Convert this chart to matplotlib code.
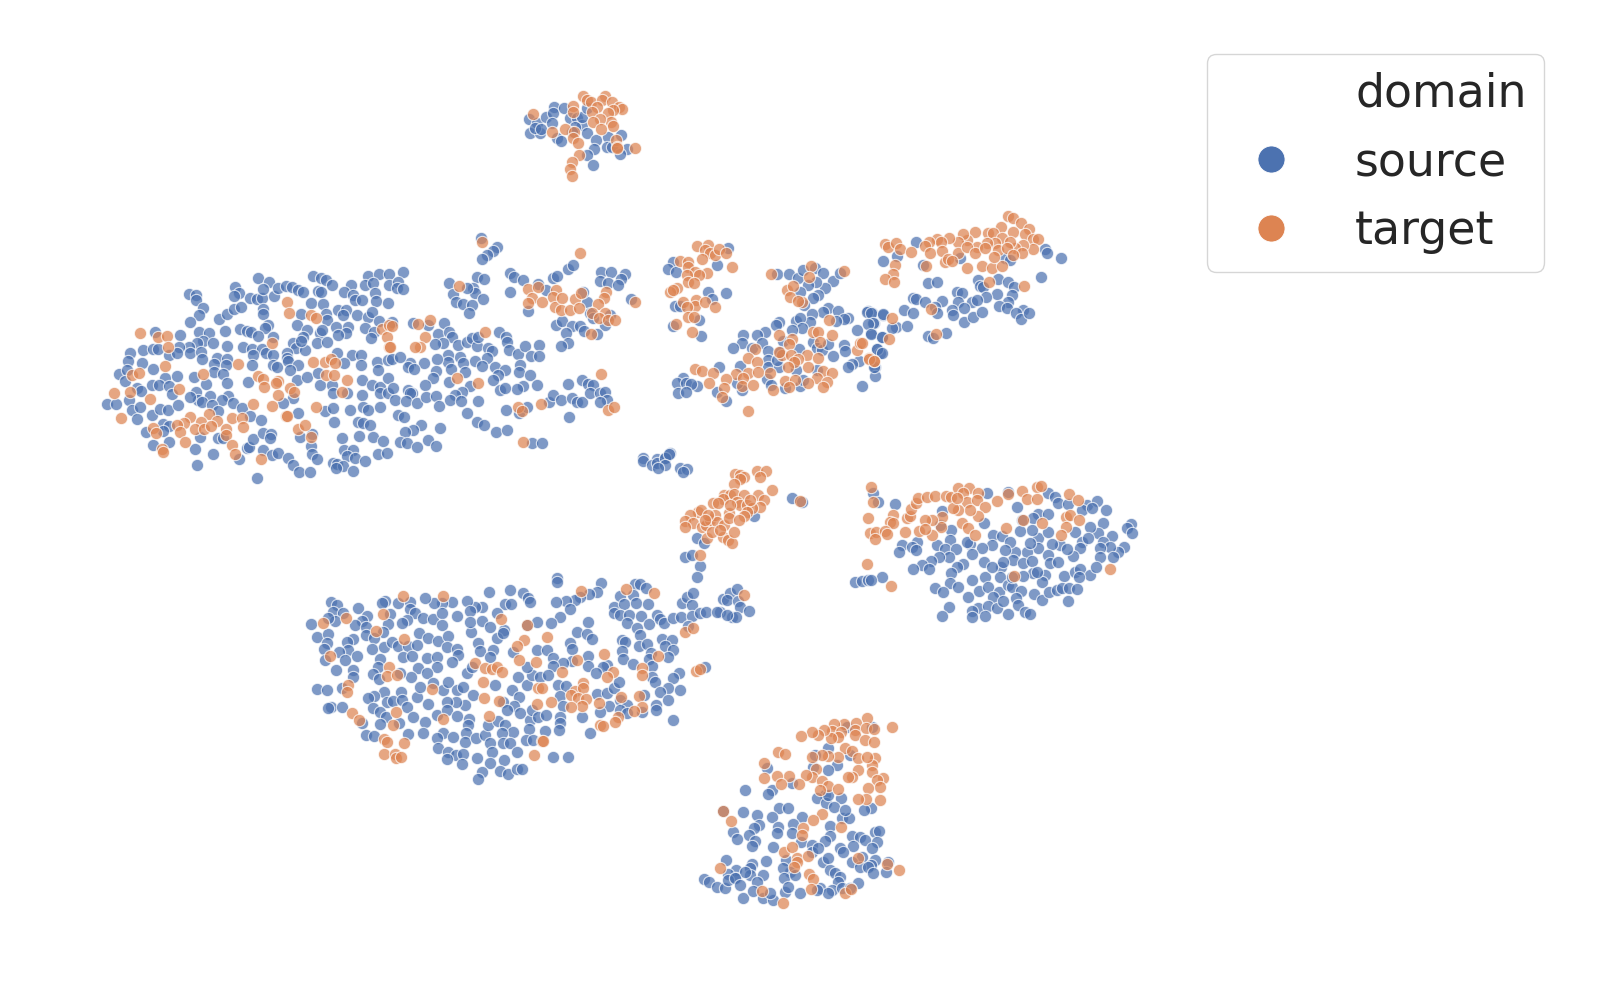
import matplotlib
matplotlib.use("Agg")
import matplotlib.pyplot as plt
from matplotlib.lines import Line2D

SCALE = 3.0
COL_SOURCE = "#4C72B0"
COL_TARGET = "#DD8452"

a_origin = (90, 230)
a_source = [(503,143),(537,156),(670,138),(693,143),(708,150),(727,165),(835,137),(867,133),(897,133),(783,165),(825,166),(850,160),(898,165),(297,191),(317,195),(317,210),(436,171),(447,188),(432,198),(480,205),(500,206),(515,205),(520,178),(551,197),(565,175),(587,168),(605,170),(625,180),(640,186),(683,182),(693,185),(763,186),(790,195),(795,210),(817,209),(855,188),(858,212),(893,218),(340,234),(328,255),(301,277),(388,268),(412,253),(432,236),(453,231),(519,238),(520,252),(662,220),(700,222),(633,251),(708,252),(712,270),(745,240),(768,240),(760,255),(800,256),(835,260),(846,245),(866,272),(535,284),(525,295),(620,284),(650,300),(640,320),(690,310),(697,300),(737,292),(775,290),(768,310),(745,315),(825,295),(853,305),(843,325),(450,297),(470,302),(483,305),(503,318),(550,320),(328,305),(358,310),(340,332),(370,338),(320,338),(270,314),(195,305),(405,304),(412,348),(458,350),(485,358),(515,358),(527,370),(488,375),(550,375),(608,340),(618,355),(645,360),(590,370),(590,385),(682,338),(710,337),(634,332),(298,352),(268,352),(300,370),(333,365),(335,387),(237,375),(261,368),(120,369),(160,360),(188,356),(205,358),(115,392),(157,398),(189,418),(382,384),(410,388),(372,402),(408,405),(485,405),(550,405),(562,412),(595,392),(625,405),(600,420),(742,370),(785,375),(813,375),(763,398),(812,405),(860,397),(865,420),(895,390),(88,433),(110,420),(225,443),(261,437),(311,440),(348,462),(372,425),(400,432),(410,460),(475,455),(620,450),(652,442),(683,430),(690,465),(725,465),(815,450),(845,465),(870,470),(895,445),(105,452),(140,475),(153,482),(185,465),(206,465),(237,467),(245,492),(318,487),(360,497),(325,510),(300,500),(415,497),(395,510),(428,520),(608,505),(730,490),(772,490),(815,495),(870,490),(895,490),(50,521),(78,522),(118,510),(126,541),(150,530),(187,555),(210,538),(235,540),(265,525),(335,517),(365,525),(385,542),(455,535),(480,558),(513,570),(578,520),(624,548),(705,543),(730,533),(780,540),(818,530),(835,540),(870,530),(140,568),(218,582),(238,588),(168,606),(218,604),(237,635),(190,645),(316,658),(330,620),(383,625),(400,625),(368,673),(448,688),(470,655),(478,650),(490,628),(520,610),(543,612),(540,625),(520,660),(545,675),(565,670),(595,685),(610,705),(628,727),(660,725),(630,620),(665,612),(662,648),(665,672),(680,688),(733,576),(805,575),(818,580),(840,585),(757,625),(808,618),(850,620),(878,633),(762,660),(790,660),(770,678),(795,685),(825,692),(728,698),(742,703),(760,708),(788,722),(738,715),(865,672),(890,670),(320,705),(500,743)]
a_target = [(592,216),(598,250),(663,256),(678,265),(151,310),(205,322),(230,318),(234,351),(545,339),(224,407),(445,403),(670,397),(705,395),(723,388),(735,400),(338,433),(125,435),(148,430),(503,437),(520,447),(565,452),(557,460),(707,435),(732,434),(770,450),(73,489),(120,485),(181,507),(266,476),(523,470),(563,495),(600,473),(612,485),(755,487),(488,521),(546,528),(677,532),(93,565),(300,560),(283,578),(262,585),(356,553),(333,575),(380,572),(427,564),(455,564),(460,590),(588,557),(590,557),(188,595),(197,610),(270,605),(315,598),(342,597),(362,588),(408,598),(407,615),(625,598),(645,585),(662,620),(285,637),(427,645),(215,657),(220,665),(434,671),(513,687),(875,298),(890,320),(898,285),(898,350)]

b_origin = (380, 80)
b_source = [(448,118),(470,128),(450,160),(480,160),(465,145),(483,148),(498,110),(523,82),(520,100),(552,85),(515,130),(530,175),(543,183),(570,115),(590,115),(605,135),(585,140),(620,160),(605,110),(575,155),(647,180),(643,208),(683,170),(723,165),(680,200),(695,200),(740,207),(720,222),(620,225),(640,255),(620,85),(304,475),(350,500),(338,513),(322,525),(305,538),(207,609),(290,590),(313,598),(280,625),(285,640),(262,625),(218,642),(227,665),(250,672),(308,656),(275,675),(268,700),(390,578),(402,590),(428,601),(390,637),(475,612),(498,630),(520,595),(532,588),(565,567),(578,555),(663,577),(692,575),(735,581),(660,603),(685,608),(723,598),(715,615),(445,693),(752,658),(620,667),(610,635),(527,735),(545,723),(575,738),(600,737),(612,752),(630,700),(640,715),(675,735),(690,705),(650,763),(557,760),(565,790),(543,797),(68,576),(55,605),(50,623),(70,626),(35,725),(98,729),(145,735),(193,729),(175,762),(208,755),(215,770),(190,790),(165,793),(233,796),(260,787),(275,775),(292,798),(295,772),(358,755),(378,770),(380,787),(388,810),(413,823),(436,797),(477,794),(453,827),(478,827),(325,803),(335,812),(320,835),(285,842),(240,830),(205,825),(203,845),(213,868),(170,838),(133,848),(168,872),(160,893),(90,848),(83,860),(103,868),(35,838),(60,830),(250,850),(255,875),(305,857),(345,860),(375,870),(355,885),(340,900),(360,930),(420,855),(418,875),(450,885),(470,914),(430,917),(410,927),(375,925),(270,918),(245,935),(225,945),(207,905),(135,915),(85,930),(95,940),(40,925),(90,938),(45,960),(78,962),(110,970),(138,950),(168,947),(178,977),(210,960),(242,962),(293,962),(260,1000),(290,1025),(312,1035),(378,990),(347,1057),(380,1050),(418,1000),(440,980),(507,967),(520,945),(543,959),(575,953),(590,965),(605,965),(565,912),(605,900),(625,912),(640,915),(630,938),(660,938),(675,935),(680,960),(660,965),(566,1010),(55,1005),(72,1012),(122,1035),(180,1045),(100,1050),(75,1055),(60,1085),(80,1088),(112,1102),(145,1080),(168,1097),(457,1090),(487,1090),(790,1135),(830,1138),(870,1120),(855,1133)]
b_target = [(610,48),(620,60),(632,65),(675,47),(665,60),(650,80),(635,95),(695,65),(718,82),(725,88),(700,90),(685,98),(692,125),(660,118),(640,125),(700,137),(662,148),(460,103),(517,157),(555,147),(578,78),(578,95),(582,155),(578,175),(595,190),(707,180),(712,200),(765,203),(597,225),(575,247),(570,267),(575,287),(712,205),(305,487),(238,618),(600,518),(445,627),(475,620),(528,630),(455,655),(443,670),(485,667),(520,652),(525,680),(545,655),(543,690),(570,690),(585,658),(603,638),(597,685),(677,635),(672,655),(655,672),(637,700),(675,698),(657,713),(683,720),(705,720),(632,763),(766,665),(37,738),(115,733),(150,720),(135,772),(120,800),(105,800),(315,757),(230,893),(295,910),(663,882),(413,980),(427,992),(483,972),(683,990),(703,981),(428,1085),(30,800)]

c_origin = (660, 220)
c_source = [(203,83),(172,135),(38,125),(23,146),(47,157),(143,217),(197,218),(45,258),(60,258),(157,236),(118,301),(38,318),(122,348),(350,163),(388,162),(415,173),(428,150),(465,145),(490,160),(520,183),(540,160),(495,205),(468,185),(445,195),(420,215),(475,225),(460,235),(433,255),(503,265),(533,274),(490,275),(565,295),(552,297),(528,303),(457,283),(450,305),(408,302),(420,295),(425,323),(395,330),(358,305),(347,315),(315,337),(290,345),(248,345),(245,368),(220,384),(275,385),(305,370),(325,392),(323,420),(370,362),(418,387),(460,367),(470,385),(485,390),(505,372),(518,407),(553,375),(555,393),(590,330),(623,273),(635,280),(643,310),(632,340),(666,350),(670,285),(650,388),(660,400),(597,422),(575,432),(565,440),(645,440),(645,467),(607,498),(178,440),(240,438),(68,475),(52,488),(78,490),(110,497),(92,492),(55,518),(77,517),(170,515),(197,543),(245,510),(230,490),(323,440),(320,478),(333,495),(358,442),(375,505),(420,497),(408,450),(350,420),(360,395),(430,480),(470,450)]
c_target = [(110,78),(145,75),(135,90),(150,98),(165,105),(178,88),(197,100),(125,118),(215,140),(60,123),(85,125),(85,140),(105,155),(142,160),(118,165),(80,165),(85,185),(103,190),(50,205),(30,215),(40,210),(68,245),(108,240),(105,258),(135,247),(165,260),(80,262),(83,290),(103,290),(47,313),(97,335),(333,162),(452,138),(447,172),(552,153),(382,210),(398,197),(390,230),(425,245),(415,243),(507,300),(458,337),(475,335),(358,345),(397,358),(387,373),(480,365),(515,345),(285,388),(265,415),(290,425),(367,405),(358,395),(392,405),(440,405),(415,417),(402,425),(473,415),(385,440),(445,440),(265,460),(293,457),(330,460),(490,452),(515,458),(375,482),(405,480),(470,475),(500,487),(445,488),(490,500),(388,500),(105,447),(125,453),(160,460),(228,462),(250,475),(148,488),(198,478),(193,505),(245,497),(279,496),(340,510),(185,530),(628,415),(590,390),(600,370),(643,423),(265,573)]

d_origin = (860, 200)
d_source = [(167,127),(110,167),(68,182),(190,195),(555,147),(560,160),(603,174),(542,230),(205,250),(230,245),(355,240),(360,258),(370,262),(415,237),(443,245),(461,262),(410,282),(378,290),(455,285),(445,305),(292,277),(305,280),(160,295),(168,297),(195,305),(247,302),(225,320),(133,330),(160,338),(232,340),(295,305),(335,305),(350,300),(275,330),(312,325),(280,345),(312,367),(340,350),(365,335),(416,318),(440,325),(490,330),(468,340),(482,358),(507,340),(22,335),(33,340),(70,343),(40,370),(25,372),(33,402),(67,410),(108,380),(140,377),(95,385),(205,408),(258,400),(220,415),(52,447),(65,460),(42,500),(300,175),(435,175),(450,180)]
d_target = [(445,47),(460,55),(482,70),(508,88),(422,82),(458,95),(495,103),(520,118),(535,118),(520,146),(490,135),(465,145),(345,97),(385,98),(400,100),(425,115),(450,125),(405,130),(380,130),(350,140),(320,120),(310,102),(293,125),(268,113),(230,118),(243,127),(208,125),(195,137),(210,160),(245,153),(295,160),(320,140),(345,158),(375,145),(415,150),(440,145),(485,160),(75,133),(85,140),(108,128),(120,147),(153,155),(105,195),(100,222),(75,237),(102,247),(198,198),(255,185),(265,178),(277,184),(322,205),(365,197),(395,205),(425,198),(403,172),(458,165),(387,247),(491,259),(213,328),(95,353),(88,417),(228,402),(28,476),(42,482),(5,430)]

e_origin = (630, 440)
e_source = [(40,63),(65,75),(80,68),(105,55),(117,42),(105,75),(85,85),(150,83),(172,88),(158,97),(485,175),(515,187),(372,228),(202,295),(222,310),(165,350),(187,346),(210,378),(202,410)]
e_target = [(382,92),(408,93),(390,110),(315,103),(330,105),(342,110),(330,118),(312,133),(425,150),(385,165),(403,180),(390,200),(282,165),(300,165),(278,178),(313,162),(343,165),(320,185),(330,195),(350,195),(365,205),(350,215),(343,228),(360,180),(250,190),(265,190),(205,215),(213,210),(180,225),(165,242),(190,250),(165,260),(215,262),(228,255),(240,240),(255,225),(260,245),(282,255),(298,218),(298,235),(327,240),(230,293),(247,277),(278,292),(295,300),(305,308),(313,277),(509,184),(210,346),(270,270),(235,225),(300,195),(225,240)]

f_origin = (845, 470)
f_source = [(85,70),(100,95),(150,102),(425,68),(490,65),(515,110),(608,68),(630,82),(640,100),(668,103),(725,105),(755,92),(783,120),(712,120),(740,115),(857,163),(845,175),(860,188),(775,160),(760,190),(290,122),(418,160),(530,150),(578,132),(610,133),(565,145),(690,185),(735,170),(800,197),(775,215),(838,232),(820,245),(795,230),(765,235),(805,260),(765,260),(710,215),(705,235),(645,225),(685,258),(730,205),(665,237),(580,205),(560,180),(525,182),(610,185),(620,222),(580,235),(545,245),(510,245),(445,195),(470,198),(495,215),(480,240),(442,225),(410,235),(375,222),(365,215),(318,180),(315,210),(285,165),(275,225),(215,215),(170,225),(200,230),(163,245),(212,240),(300,238),(333,238),(380,252),(313,262),(282,262),(258,272),(230,285),(205,298),(253,298),(355,282),(335,290),(418,277),(318,310),(380,330),(420,320),(467,290),(505,270),(535,280),(560,272),(610,255),(615,280),(640,275),(600,315),(565,310),(590,335),(535,318),(465,320),(658,318),(690,305),(705,298),(735,315),(752,292),(702,322),(315,340),(340,350),(270,353),(295,365),(370,380),(403,362),(430,350),(463,365),(445,382),(490,345),(500,350),(528,363),(512,383),(568,372),(590,390),(612,367),(637,360),(650,355),(672,355),(695,357),(668,393),(313,412),(290,437),(400,413),(428,407),(380,423),(382,440),(420,437),(457,415),(475,393),(520,405),(540,425),(555,433),(488,431),(30,337),(50,333),(70,330),(110,322),(78,330),(575,305),(475,275),(440,290),(500,320),(555,220)]
f_target = [(77,52),(85,95),(68,145),(145,135),(135,155),(145,160),(75,190),(92,187),(90,208),(120,182),(125,193),(180,187),(187,145),(195,137),(197,118),(212,98),(220,85),(245,80),(270,77),(303,77),(318,80),(340,55),(373,55),(355,68),(400,68),(365,95),(395,90),(420,110),(398,138),(375,120),(340,120),(325,115),(335,85),(290,140),(287,170),(262,195),(262,150),(240,150),(222,183),(240,177),(350,160),(368,175),(390,195),(455,92),(488,72),(532,63),(545,88),(575,50),(587,47),(577,88),(482,173),(533,150),(590,160),(663,140),(675,135),(703,150),(663,172),(648,194),(672,72),(698,90),(508,318),(795,298),(65,282),(138,348)]

g_origin = (300, 570)
g_source = [(567,65),(631,60),(670,70),(685,83),(690,95),(615,102),(632,103),(545,110),(525,110),(500,92),(510,122),(470,137),(455,97),(425,98),(402,100),(375,84),(255,92),(245,100),(295,100),(330,95),(330,117),(345,128),(93,97),(110,105),(173,113),(100,125),(130,128),(200,137),(185,152),(165,165),(105,152),(85,145),(33,163),(50,200),(85,193),(82,220),(72,237),(198,172),(198,195),(160,208),(140,215),(145,240),(118,245),(170,258),(75,270),(135,270),(107,300),(160,300),(158,322),(270,132),(263,162),(250,185),(222,205),(215,237),(251,232),(275,215),(295,228),(322,150),(305,160),(358,190),(385,205),(325,228),(352,226),(308,262),(337,258),(380,265),(410,260),(415,212),(368,145),(400,147),(425,130),(425,165),(445,197),(440,232),(470,237),(475,255),(455,275),(410,290),(355,295),(382,310),(332,322),(300,308),(240,268),(235,290),(220,312),(237,328),(302,365),(252,365),(222,377),(205,383),(262,395),(280,392),(305,390),(320,412),(350,380),(360,350),(400,340),(428,360),(445,335),(470,360),(488,352),(500,310),(512,185),(510,155),(545,152),(570,172),(612,180),(592,203),(535,220),(540,242),(578,240),(570,260),(515,290),(585,345),(635,360),(658,380),(642,407),(610,395),(620,420),(660,430),(690,450),(695,420),(495,405),(520,375),(467,395),(440,395),(385,403),(340,440),(220,415),(240,425),(258,442),(240,462),(297,458),(375,455),(410,435),(440,420),(470,438),(508,447),(505,465),(497,490),(495,515),(430,490),(460,500),(370,490),(410,505),(415,533),(443,545),(468,555),(440,567),(490,552),(487,582),(530,565),(528,505),(555,495),(565,465),(593,452),(615,465),(640,485),(605,490),(570,520),(610,520),(630,520),(575,545),(650,545),(612,570),(570,578),(600,603),(625,613),(650,597),(665,598),(545,605),(535,627),(688,478),(678,510),(700,510),(715,442),(50,357),(80,360),(125,355),(93,410),(85,415),(127,412),(185,458),(197,495),(222,497),(325,492),(655,322),(680,345),(695,315),(720,320),(712,240),(680,290),(640,245),(680,165),(710,155),(610,190),(590,130)]
g_target = [(310,77),(430,77),(70,160),(137,145),(250,133),(229,183),(312,206),(604,146),(680,164),(672,210),(652,229),(657,270),(707,277),(90,257),(268,292),(261,318),(290,316),(525,278),(555,295),(575,298),(592,292),(607,307),(550,335),(143,344),(140,367),(395,357),(552,385),(597,392),(715,355),(712,403),(157,429),(178,451),(288,425),(430,447),(568,437),(280,466),(253,507),(260,517),(313,519),(253,551),(285,553),(288,565),(303,562),(702,555),(725,512)]

k_origin = (520, 560)
k_source = [(110,55),(112,65),(243,70),(230,95),(208,103),(180,110),(165,120),(138,122),(107,127),(150,148),(120,170),(92,188),(203,187),(170,215),(200,222),(217,238),(150,250),(155,267),(203,288),(203,318),(80,270),(100,295),(155,303),(130,310),(100,318),(85,345),(262,315),(248,322),(228,338),(115,375),(138,378),(120,408),(130,438),(230,402),(260,400),(282,385),(298,365),(268,437),(240,455),(300,420),(185,472),(77,465),(120,470),(120,490),(118,510),(75,513),(210,518),(345,72),(360,72),(377,85),(300,108),(340,105),(283,140),(312,132),(347,128),(385,133),(283,158),(300,165),(327,165),(362,168),(320,190),(388,193),(352,205),(360,225),(358,258),(380,253),(305,240),(315,245),(305,272),(310,298),(338,312),(393,278),(387,298),(395,317),(397,350),(405,365),(410,165),(420,178),(432,190),(425,238),(455,240),(435,258),(460,270),(445,290),(460,173),(485,130),(500,110),(518,100),(515,135),(483,170),(515,168),(540,160),(557,157),(505,198),(600,155),(590,155),(610,118),(630,100),(652,87),(622,120),(655,122),(660,142),(688,152),(635,172),(648,172),(622,165),(555,320),(478,338),(460,355),(445,385),(420,395),(480,390),(445,420),(407,435),(407,450),(372,405),(320,435),(300,450),(320,460),(367,455),(458,480),(145,592),(100,590)]
k_target = [(183,93),(317,87),(401,100),(494,216),(520,205),(413,288),(253,281),(170,300),(127,335),(280,337),(260,350),(367,325),(367,345),(528,332),(540,328),(188,368),(165,392),(190,383),(153,405),(175,413),(197,418),(187,437),(67,385),(92,425),(152,442),(238,428),(303,410),(358,408),(367,440),(341,454),(293,470),(284,487),(241,495),(250,497),(69,544),(80,230),(673,105)]

h_origin = (695, 705)
h_source = [(400,128),(465,150),(530,65),(455,65),(360,150),(425,180),(398,195),(355,187),(215,190),(290,235),(150,255),(232,255),(220,268),(390,270),(365,280),(437,280),(392,295),(417,305),(400,270),(528,310),(508,316),(145,320),(85,318),(253,310),(278,308),(185,330),(232,337),(320,335),(293,358),(440,340),(462,340),(450,315),(193,360),(178,368),(163,390),(248,365),(247,385),(180,408),(172,423),(113,380),(125,402),(292,385),(318,410),(405,363),(405,393),(390,408),(350,420),(350,440),(368,430),(233,425),(435,428),(470,393),(495,395),(510,405),(540,380),(552,377),(545,412),(475,422),(530,430),(500,455),(540,465),(528,480),(445,440),(470,470),(495,487),(520,485),(580,470),(533,505),(572,500),(93,465),(212,469),(170,478),(165,490),(123,495),(100,508),(123,520),(165,510),(150,500),(203,510),(185,530),(272,465),(285,500),(265,490),(268,520),(385,470),(400,460),(405,495),(420,505),(435,515),(430,530),(375,550),(410,555),(400,565),(440,550),(490,535),(465,550),(28,522),(42,530),(67,545),(90,550),(100,525),(120,520),(135,540),(145,578),(175,558),(205,580),(235,585),(225,565),(270,560),(280,545),(315,565),(300,510),(365,555)]
h_target = [(516,38),(483,53),(448,57),(418,58),(410,77),(437,80),(430,95),(407,100),(388,75),(370,90),(350,80),(317,93),(480,75),(480,90),(513,70),(537,73),(590,65),(510,105),(537,112),(450,130),(470,138),(490,160),(540,160),(530,180),(515,155),(530,200),(488,195),(470,215),(458,217),(430,155),(398,152),(380,150),(352,155),(362,192),(350,217),(332,210),(380,228),(400,243),(428,252),(375,256),(312,238),(283,212),(245,212),(258,237),(207,175),(207,220),(250,140),(270,146),(565,220),(545,225),(555,245),(520,250),(555,285),(512,283),(488,283),(380,328),(355,346),(325,370),(322,390),(108,348),(85,317),(438,365),(268,442),(292,427),(305,458),(305,472),(297,485),(340,452),(75,488),(490,458),(576,476),(612,495),(342,507),(355,523),(348,553),(200,557),(450,563),(468,552),(265,595)]

clusters = [
    (a_origin, a_source, a_target), (b_origin, b_source, b_target),
    (c_origin, c_source, c_target), (d_origin, d_source, d_target),
    (e_origin, e_source, e_target), (f_origin, f_source, f_target),
    (g_origin, g_source, g_target), (k_origin, k_source, k_target),
    (h_origin, h_source, h_target),
]

def place(origin, pts):
    return [origin[0] + p[0] / SCALE for p in pts], [origin[1] + p[1] / SCALE for p in pts]

fig = plt.figure(figsize=(16, 10), dpi=100, facecolor="white")
ax = fig.add_axes([0, 0, 1, 1])
ax.set_xlim(0, 1600)
ax.set_ylim(1000, 0)
ax.axis("off")

style = dict(s=78, alpha=0.72, edgecolors="white", linewidths=0.8)
for origin, src, _ in clusters:
    x, y = place(origin, src)
    ax.scatter(x, y, c=COL_SOURCE, **style)
for origin, _, tgt in clusters:
    x, y = place(origin, tgt)
    ax.scatter(x, y, c=COL_TARGET, **style)

handles = [
    Line2D([], [], linestyle="none", marker=None),
    Line2D([], [], linestyle="none", marker="o", markersize=19.5, color=COL_SOURCE, markeredgecolor="white", markeredgewidth=0.6),
    Line2D([], [], linestyle="none", marker="o", markersize=19.5, color=COL_TARGET, markeredgecolor="white", markeredgewidth=0.6),
]
leg = fig.legend(handles, ["domain", "source", "target"], loc="upper left",
                 bbox_to_anchor=(1207 / 1600, 1 - 54 / 1000), borderaxespad=0,
                 fontsize=33, labelcolor="#262626", frameon=True, fancybox=True,
                 edgecolor="#cccccc", facecolor="white", framealpha=0.8,
                 labelspacing=0.52, handletextpad=0.8, handlelength=2.05, borderpad=0.38)
leg.get_frame().set_linewidth(1.0)

fig.savefig("out.png", dpi=100, facecolor="white")
